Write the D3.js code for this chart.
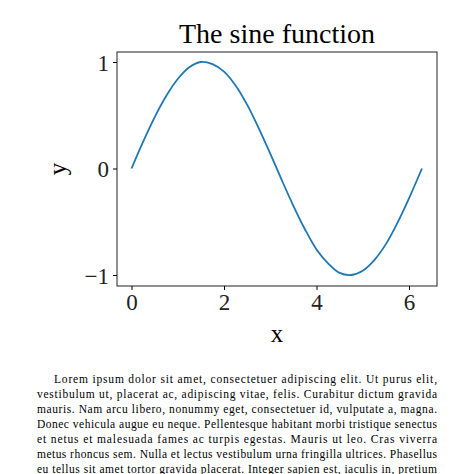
<!DOCTYPE html>
<html><head><meta charset="utf-8">
<script src="https://cdn.jsdelivr.net/npm/d3@7"></script>
<style>body{margin:0;background:#fff}text{font-family:"Liberation Serif","DejaVu Serif",serif}</style>
</head><body><svg id="c" width="474" height="474"></svg>
<script>
// curve samples
const xs = [0, 0.25, 0.5, 0.75, 1, 1.25, 1.5, 1.75, 2, 2.25, 2.5, 2.75, 3, 3.25, 3.5, 3.75, 4, 4.25, 4.5, 4.75, 5, 5.25, 5.5, 5.75, 6, 6.28];
const ys = [0, 0.25, 0.48, 0.68, 0.84, 0.95, 1.0, 0.98, 0.91, 0.78, 0.6, 0.38, 0.14, -0.11, -0.35, -0.57, -0.76, -0.89, -0.98, -1.0, -0.96, -0.86, -0.71, -0.51, -0.28, 0];
const xTicks = [0, 2, 4, 6];
const yTicks = [-1, 0, 1];
const para = [
  "Lorem ipsum dolor sit amet, consectetuer adipiscing elit. Ut purus elit,",
  "vestibulum ut, placerat ac, adipiscing vitae, felis. Curabitur dictum gravida",
  "mauris. Nam arcu libero, nonummy eget, consectetuer id, vulputate a, magna.",
  "Donec vehicula augue eu neque. Pellentesque habitant morbi tristique senectus",
  "et netus et malesuada fames ac turpis egestas. Mauris ut leo. Cras viverra",
  "metus rhoncus sem. Nulla et lectus vestibulum urna fringilla ultrices. Phasellus",
  "eu tellus sit amet tortor gravida placerat. Integer sapien est, iaculis in, pretium"
];

const svg = d3.select("#c");
const L = 117, R = 437, T = 52, B = 286;
const x = d3.scaleLinear().domain([0, 6]).range([131.5, 409]);
const y = d3.scaleLinear().domain([-1, 1]).range([275, 62]);

svg.append("path")
  .datum(d3.zip(xs, ys))
  .attr("d", d3.line().x(d => x(d[0])).y(d => y(d[1])).curve(d3.curveCatmullRom))
  .attr("fill", "none").attr("stroke", "#1f77b4").attr("stroke-width", 1.8);

svg.append("rect").attr("x", L).attr("y", T).attr("width", R - L).attr("height", B - T)
  .attr("fill", "none").attr("stroke", "#222").attr("stroke-width", 1);

const xa = svg.append("g").attr("transform", `translate(0,${B})`)
  .call(d3.axisBottom(x).tickValues(xTicks).tickSize(4).tickPadding(4).tickFormat(d3.format("d")));
const ya = svg.append("g").attr("transform", `translate(${L},0)`)
  .call(d3.axisLeft(y).tickValues(yTicks).tickSize(4).tickPadding(4).tickFormat(d => d < 0 ? "\u2212" + (-d) : d));
[xa, ya].forEach(a => {
  a.select(".domain").remove();
  a.selectAll("text").attr("font-size", 23).attr("font-family", "Liberation Serif").attr("fill", "#222");
});
ya.selectAll("text").attr("dy", "0.35em");

svg.append("text").attr("x", 277).attr("y", 43).attr("text-anchor", "middle")
  .attr("font-size", 28).text("The sine function");
svg.append("text").attr("x", 277).attr("y", 342).attr("text-anchor", "middle")
  .attr("font-size", 25).text("x");
svg.append("text").attr("transform", "translate(66,169) rotate(-90)").attr("text-anchor", "middle")
  .attr("font-size", 25).text("y");

para.forEach((s, i) => {
  const x0 = i === 0 ? 54 : 37;
  svg.append("text").attr("x", x0).attr("y", 383 + i * 15)
    .attr("font-size", 11.5)
    .attr("textLength", 437 - x0).attr("lengthAdjust", "spacing")
    .text(s);
});
</script></body></html>
